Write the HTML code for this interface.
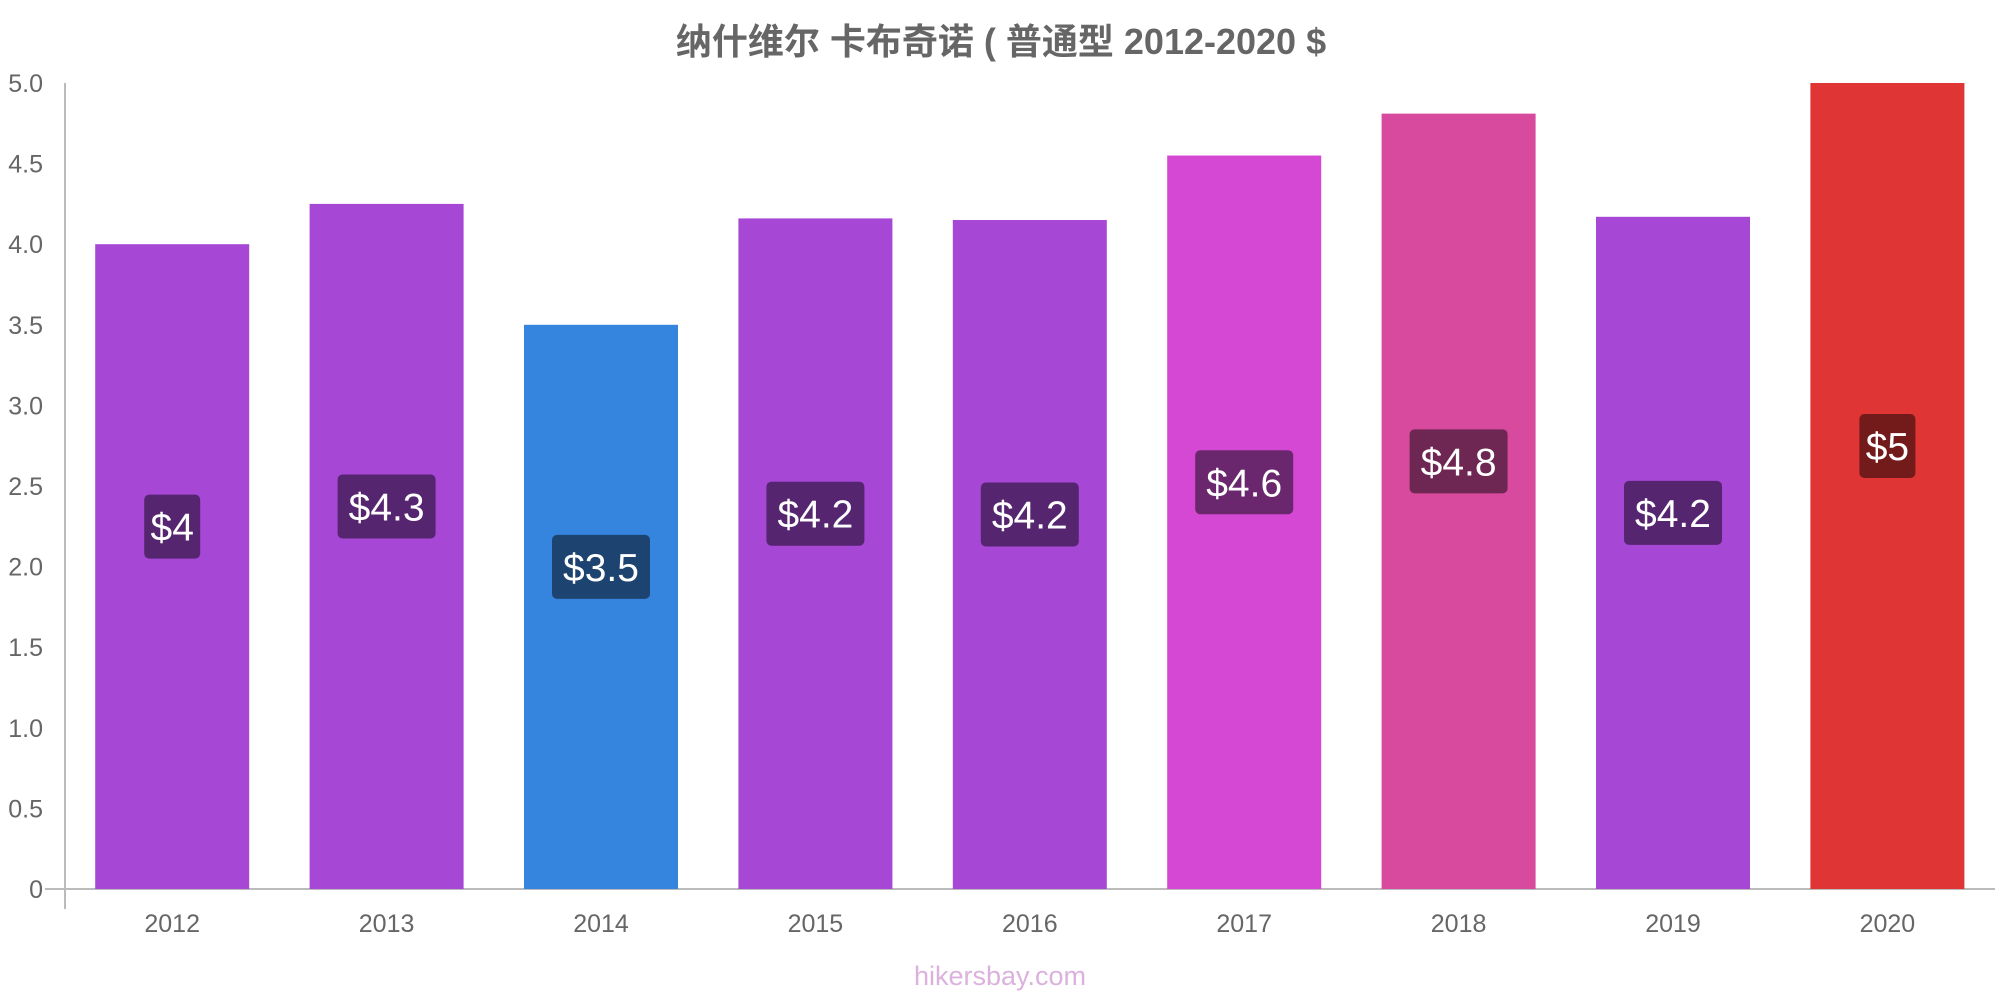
<!DOCTYPE html>
<html><head><meta charset="utf-8"><style>
body{margin:0;background:#fff;width:2000px;height:1000px;overflow:hidden;font-family:"Liberation Sans","Noto Sans CJK SC",sans-serif}
svg text{font-family:"Liberation Sans","Noto Sans CJK SC",sans-serif}
</style></head><body>
<svg id="chart" width="2000" height="1000">
<text x="1001" y="54" text-anchor="middle" font-size="36" font-weight="bold" fill="#666">纳什维尔 卡布奇诺 ( 普通型 2012-2020 $</text>
<g id="grid"></g><g id="bars"></g>
<text x="1000" y="985" text-anchor="middle" font-size="27" fill="#dbb1dd">hikersbay.com</text>
</svg>
<script>
const categories=["2012","2013","2014","2015","2016","2017","2018","2019","2020"];
const values=[4.0,4.25,3.5,4.16,4.15,4.55,4.81,4.17,5.0];
const labels=["$4","$4.3","$3.5","$4.2","$4.2","$4.6","$4.8","$4.2","$5"];
const yTicks=[0,0.5,1,1.5,2,2.5,3,3.5,4,4.5,5];
const yTickLabels=["0","0.5","1.0","1.5","2.0","2.5","3.0","3.5","4.0","4.5","5.0"];
const colors=["#a747d6","#a747d6","#3584de","#a747d6","#a747d6","#d548d3","#d84a9e","#a747d6","#e03535"];
const labelColors=["#55256f","#55256f","#1d4470","#55256f","#55256f","#6b276d","#6d2752","#55256f","#731b1b"];
const NS="http://www.w3.org/2000/svg";
const x0=65,band=214.4,y0=889,yTop=83,yMax=5;
const y=v=>y0-(v/yMax)*(y0-yTop);
const xc=i=>x0+band*(i+0.5);
function mk(t,a,p){const e=document.createElementNS(NS,t);for(const k in a)e.setAttribute(k,a[k]);p.appendChild(e);return e;}
const g=document.getElementById('grid'),b=document.getElementById('bars');
let ax=mk('line',{x1:x0,y1:yTop,x2:x0,y2:y0+20,stroke:'#bbb','stroke-width':2},g);


let bx=mk('line',{x1:x0-20,y1:y0,x2:1995,y2:y0,stroke:'#bbb','stroke-width':2},g);


yTicks.forEach((t,i)=>{
 const tx=mk('text',{x:43,y:y(t)+9,'text-anchor':'end','font-size':25,fill:'#666'},g);
 tx.textContent=yTickLabels[i];
 
 
});
values.forEach((v,i)=>{
 const w=154,cx=xc(i);
 const r=mk('rect',{x:cx-w/2,y:y(v),width:w,height:y0-y(v),fill:colors[i]},b);
 
 
 const xl=mk('text',{x:cx,y:932,'text-anchor':'middle','font-size':25,fill:'#666'},b);
 xl.textContent=categories[i];
 
 
 const ly=(y(v)+y0)/2-40;
 const tw=labels[i].length*21+14;
 const lb=mk('rect',{x:cx-tw/2,y:ly-32,width:tw,height:64,rx:5,fill:labelColors[i]},b);
 
 
 const lt=mk('text',{x:cx,y:ly+14,'text-anchor':'middle','font-size':39,fill:'#fff'},b);
 lt.textContent=labels[i];
 
 
});
</script>
</body></html>
